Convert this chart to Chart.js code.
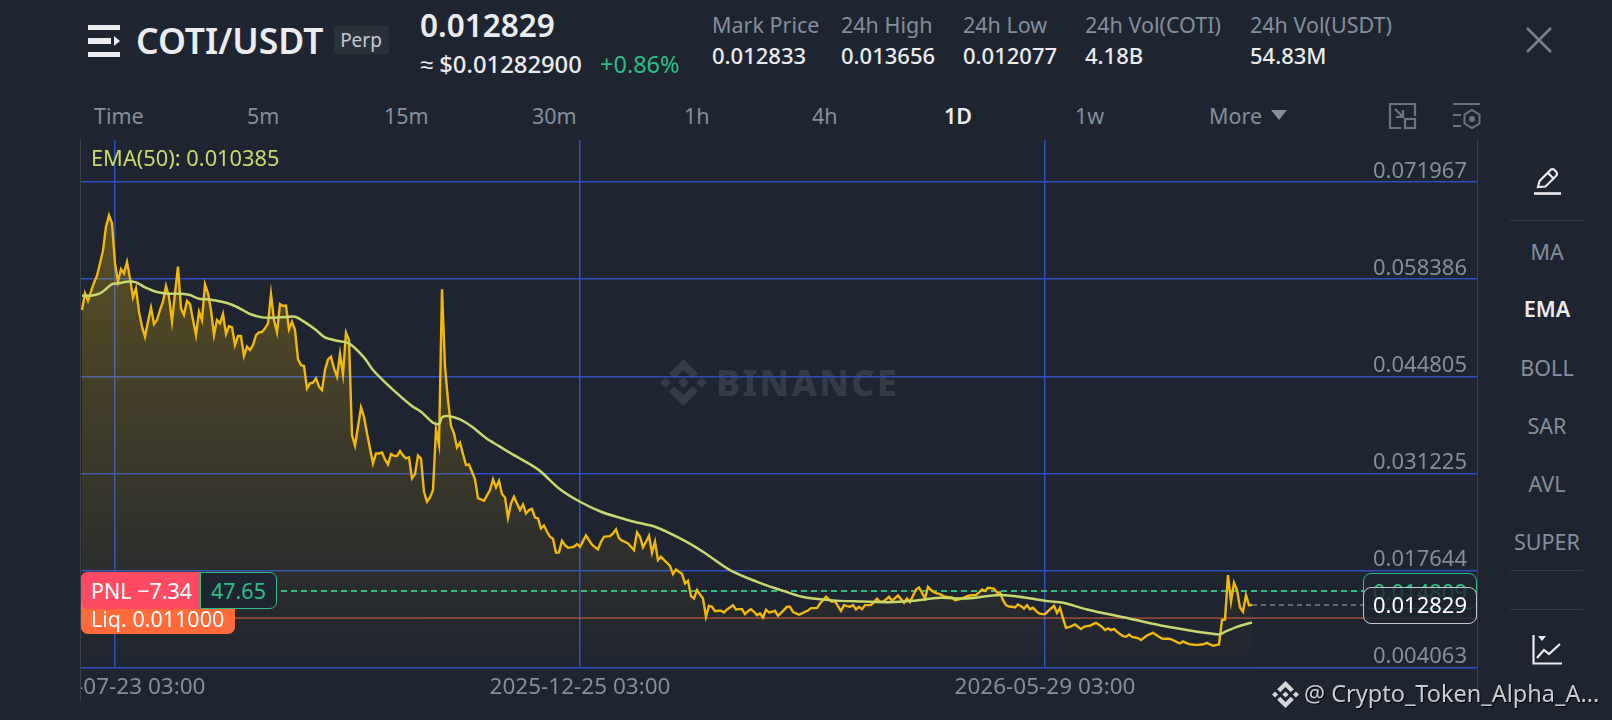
<!DOCTYPE html>
<html>
<head>
<meta charset="utf-8">
<title>COTI/USDT Perp</title>
<script src="https://cdn.jsdelivr.net/npm/chart.js@4/dist/chart.umd.js"></script>
<style>
  html, body { margin: 0; padding: 0; background: #1f2530; width: 1612px; height: 720px; overflow: hidden; }
  body { font-family: "Noto Sans", sans-serif; color: #eaecef; position: relative; }
  .t { position: absolute; white-space: nowrap; line-height: 1; transform: translateY(-50%); }
  .c { transform: translate(-50%, -50%); }
  .label { font-size: 21.5px; color: #848e9c; }
  .value { font-size: 22px; color: #eaecef; font-weight: 500; }
  .tab { font-size: 21.5px; color: #848e9c; }
  .side { font-size: 21.5px; color: #848e9c; }
  .rule { position: absolute; left: 1510px; width: 73px; height: 1px; background: #333a45; }
  svg { position: absolute; }
  #wrap { position: absolute; left: 80px; top: 140px; width: 1396px; height: 560px; border-left: 1px solid #3a414d; border-right: 1px solid #3a414d; }
  canvas { display: block; }
  .tag { position: absolute; box-sizing: border-box; font-size: 21.5px; display: flex; align-items: center; }
</style>
</head>
<body>
<svg width="0" height="0"><symbol id="bnb" viewBox="0 0 126 126"><path d="M38.5 53 63 28.5 87.5 53l14.3-14.3L63 0 24.2 38.7zM0 63l14.3-14.3L28.6 63 14.3 77.3zM38.5 73 63 97.5 87.5 73l14.3 14.3L63 126 24.2 87.3zM97.4 63l14.3-14.3L126 63l-14.3 14.3zM77.5 63 63 48.5 48.5 63 63 77.5z"/></symbol></svg>

<!-- header -->
<svg style="left:88px;top:25px" width="33" height="32" fill="#eaecef"><rect x="0" y="0" width="32" height="5"/><rect x="0" y="13" width="23" height="6"/><path d="M26 11l6 5-6 5z"/><rect x="0" y="27" width="32" height="5"/></svg>
<div class="t" style="left:136px;top:41px;font-size:35.5px;font-weight:600">COTI/USDT</div>
<div class="t" style="left:334px;top:40px;width:55px;height:29px;background:#2b3139;border-radius:4px"></div>
<div class="t c" style="left:361px;top:40px;font-size:19px;color:#c4c9d0">Perp</div>
<div class="t" style="left:420px;top:25px;font-size:31.5px;font-weight:600">0.012829</div>
<div class="t" style="left:420px;top:65px;font-size:23.8px;font-weight:500">≈ $0.01282900</div>
<div class="t" style="left:600px;top:65px;font-size:23.5px;color:#2ebd85">+0.86%</div>

<div class="t label" style="left:712px;top:25px">Mark Price</div><div class="t value" style="left:712px;top:55px">0.012833</div>
<div class="t label" style="left:841px;top:25px">24h High</div><div class="t value" style="left:841px;top:55px">0.013656</div>
<div class="t label" style="left:963px;top:25px">24h Low</div><div class="t value" style="left:963px;top:55px">0.012077</div>
<div class="t label" style="left:1085px;top:25px">24h Vol(COTI)</div><div class="t value" style="left:1085px;top:55px">4.18B</div>
<div class="t label" style="left:1250px;top:25px">24h Vol(USDT)</div><div class="t value" style="left:1250px;top:55px">54.83M</div>
<svg style="left:1526px;top:27px" width="26" height="26" stroke="#7a828e" stroke-width="2.5" fill="none"><path d="M1 1L25 25M25 1L1 25"/></svg>

<!-- interval tabs -->
<div class="t tab" style="left:94px;top:116px">Time</div>
<div class="t tab" style="left:247px;top:116px">5m</div>
<div class="t tab" style="left:384px;top:116px">15m</div>
<div class="t tab" style="left:532px;top:116px">30m</div>
<div class="t tab" style="left:684px;top:116px">1h</div>
<div class="t tab" style="left:812px;top:116px">4h</div>
<div class="t tab" style="left:944px;top:116px;color:#eaecef;font-weight:600">1D</div>
<div class="t tab" style="left:1075px;top:116px">1w</div>
<div class="t tab" style="left:1209px;top:116px">More</div>
<svg style="left:1271px;top:110px" width="16" height="10" fill="#848e9c"><path d="M0 0h16L8 10z"/></svg>
<svg style="left:1388px;top:102px" width="29" height="28" fill="none" stroke="#6d7480" stroke-width="2.2"><path d="M13 26H2V2h25v12"/><rect x="17" y="17" width="10" height="9"/><path d="M7 7l8 8M15 8v7H8"/></svg>
<svg style="left:1452px;top:102px" width="29" height="28" fill="none" stroke="#6d7480" stroke-width="2"><path d="M1 2h27M1 13h8M1 24h8"/><path d="M20 8l7.500 4.500v9L20 26l-7.500-4.500v-9z"/><circle cx="20" cy="17" r="2" fill="#6d7480"/></svg>

<!-- watermark -->
<svg style="left:660px;top:359px;fill:#363c47" width="47" height="47"><use href="#bnb"/></svg>
<div class="t" style="left:716px;top:383px;font-size:36px;font-weight:800;color:#363c47;letter-spacing:2.300px">BINANCE</div>

<!-- chart -->
<div id="wrap"><canvas id="chart" width="1396" height="560"></canvas></div>
<div class="t" style="left:91px;top:158px;font-size:21.800px;color:#c8d86e">EMA(50): 0.010385</div>

<!-- position tags -->
<div class="tag" style="left:81px;top:600px;width:154px;height:34px;background:#ff6a3b;border-radius:0 0 7px 7px;padding:3px 0 0 10px;color:#fff">Liq. 0.011000</div>
<div class="tag" style="left:81px;top:572px;width:120px;height:37px;background:#fe4a63;border-radius:6px 0 0 6px;padding-left:10px;color:#fff">PNL −7.34</div>
<div class="tag" style="left:200px;top:572px;width:77px;height:37px;background:#1f2530;border:1px solid #2ebd85;border-radius:0 7px 7px 0;justify-content:center;color:#2ebd85">47.65</div>
<div class="tag" style="left:1363px;top:573px;width:114px;height:36px;background:#1f2530;border:1px solid #2ebd85;border-radius:8px;justify-content:center;color:#2ebd85;align-items:flex-start;padding-top:2px;font-size:22px">0.014809</div>
<div class="tag" style="left:1363px;top:587px;width:114px;height:37px;background:rgba(31,37,48,0.82);border:1.500px solid #c3c7cd;border-radius:8px;justify-content:center;color:#fff;font-size:22px;padding-bottom:3px">0.012829</div>

<!-- right panel -->
<svg style="left:1533px;top:166px" width="30" height="30" fill="none" stroke="#eaecef" stroke-width="2.2"><path d="M5 21l1.500-6L17 4.500a3 3 0 0 1 5 0l1 1a3 3 0 0 1 0 4.500L12.500 20.500z"/><path d="M15 7l6 6"/><path d="M1 27.500h27" stroke-width="2.600"/></svg>
<div class="rule" style="top:220px"></div>
<div class="t c side" style="left:1547px;top:252px">MA</div>
<div class="t c side" style="left:1547px;top:309px;color:#eaecef;font-weight:600">EMA</div>
<div class="t c side" style="left:1547px;top:368px">BOLL</div>
<div class="t c side" style="left:1547px;top:426px">SAR</div>
<div class="t c side" style="left:1547px;top:484px">AVL</div>
<div class="t c side" style="left:1547px;top:542px">SUPER</div>
<div class="rule" style="top:570px"></div>
<div class="rule" style="top:609px"></div>
<svg style="left:1532px;top:634px" width="32" height="32" fill="none" stroke="#eaecef" stroke-width="2.200"><path d="M1.500 1v28.500H30"/><path d="M5 24l7-8 5 4 11-10"/><path d="M6 2h8l-4 5z" fill="#eaecef" stroke="none"/></svg>

<!-- share mark -->
<svg style="left:1272px;top:681px;fill:#d4d6da" width="27" height="27"><use href="#bnb"/></svg>
<div class="t" style="left:1304px;top:694px;font-size:23.500px;color:#c9ccd1;text-shadow:1px 1px 1px #000">@ Crypto_Token_Alpha_A...</div>

<script>
// daily closes, first one is day -11 (day 0 = 2025-07-23)
const firstDay = -11
const prices = [
  0.05407,0.05640,0.05537,0.05663,0.05789,0.05887,0.06059,0.06237,0.06572,0.06731,0.06619,
  0.06059,0.05803,0.05980,0.05920,0.06078,0.05850,0.05584,0.05710,0.05384,0.05174,
  0.05034,0.05244,0.05440,0.05211,0.05267,0.05407,0.05523,0.05743,0.05593,0.05244,
  0.05640,0.06013,0.05430,0.05337,0.05537,0.05491,0.05267,0.05057,0.05384,0.05267,
  0.05766,0.05640,0.05407,0.05057,0.05267,0.05220,0.05351,0.05071,0.05183,0.05165,
  0.04917,0.05043,0.05043,0.04764,0.04894,0.04848,0.04917,0.05057,0.05095,0.05099,
  0.05151,0.05220,0.05631,0.05267,0.05095,0.05491,0.05463,0.05468,0.05137,0.05244,
  0.05127,0.04717,0.04638,0.04624,0.04311,0.04381,0.04391,0.04451,0.04335,0.04288,
  0.04568,0.04717,0.04754,0.04591,0.04475,0.04792,0.04507,0.05090,0.04987,
  0.03659,0.03510,0.03775,0.04046,0.03915,0.03682,0.03472,0.03262,0.03402,0.03402,
  0.03416,0.03318,0.03248,0.03393,0.03370,0.03365,0.03435,0.03374,0.03332,0.03346,
  0.03053,0.03113,0.03374,0.03332,0.02866,0.02726,0.02787,0.02890,0.03738,0.03523,
  0.05696,0.04614,0.04148,0.03785,0.03682,0.03486,0.03551,0.03393,0.03239,0.03248,
  0.03146,0.03039,0.02778,0.02759,0.02740,0.02815,0.02890,0.03039,0.02927,0.03020,
  0.02834,0.02787,0.02503,0.02703,0.02796,0.02703,0.02610,0.02689,0.02563,0.02610,
  0.02628,0.02507,0.02493,0.02353,0.02395,0.02307,0.02237,0.02209,0.02013,0.02018,
  0.02181,0.02120,0.02083,0.02088,0.02097,0.02134,0.02097,0.02176,0.02256,0.02190,
  0.02125,0.02092,0.02060,0.02167,0.02237,0.02242,0.02246,0.02284,0.02340,0.02218,
  0.02181,0.02167,0.02144,0.02097,0.02051,0.02298,0.02237,0.02088,0.02167,0.02251,
  0.02013,0.02167,0.01911,0.01957,0.01915,0.01873,0.01831,0.01715,0.01780,0.01748,
  0.01720,0.01584,0.01621,0.01407,0.01374,0.01491,0.01430,0.01374,0.01118,0.01272,
  0.01258,0.01197,0.01202,0.01202,0.01178,0.01220,0.01248,0.01281,0.01220,0.01225,
  0.01225,0.01155,0.01197,0.01225,0.01188,0.01141,0.01165,0.01109,0.01216,0.01178,
  0.01188,0.01202,0.01132,0.01174,0.01216,0.01258,0.01258,0.01188,0.01165,0.01146,
  0.01165,0.01188,0.01206,0.01239,0.01239,0.01239,0.01304,0.01351,0.01398,0.01360,
  0.01328,0.01337,0.01267,0.01202,0.01281,0.01267,0.01258,0.01281,0.01220,0.01258,
  0.01225,0.01281,0.01281,0.01281,0.01323,0.01370,0.01328,0.01332,0.01360,0.01398,
  0.01342,0.01379,0.01416,0.01365,0.01314,0.01374,0.01323,0.01412,0.01500,0.01528,
  0.01454,0.01374,0.01537,0.01491,0.01463,0.01444,0.01435,0.01412,0.01398,0.01393,
  0.01388,0.01351,0.01360,0.01370,0.01388,0.01407,0.01416,0.01421,0.01421,0.01458,
  0.01500,0.01477,0.01523,0.01519,0.01509,0.01458,0.01458,0.01351,0.01281,0.01262,
  0.01258,0.01248,0.01290,0.01267,0.01234,0.01281,0.01225,0.01244,0.01202,0.01165,
  0.01155,0.01155,0.01197,0.01234,0.01272,0.01174,0.01244,0.01095,0.00964,0.00974,
  0.00992,0.01011,0.00978,0.00946,0.00978,0.00988,0.00992,0.01016,0.01034,0.01006,
  0.00978,0.00932,0.00955,0.00932,0.00950,0.00908,0.00876,0.00848,0.00838,0.00871,
  0.00838,0.00829,0.00820,0.00792,0.00824,0.00857,0.00876,0.00894,0.00866,0.00838,
  0.00815,0.00810,0.00810,0.00806,0.00787,0.00764,0.00745,0.00773,0.00754,0.00736,
  0.00731,0.00726,0.00726,0.00731,0.00736,0.00754,0.00731,0.00713,0.00722,0.00731,
  0.01072,0.01081,0.01701,0.01328,0.01594,0.01491,0.01249,0.01188,0.01421,0.01281,0.012829
]

// EMA(50) read at the bends of the line
const emaDays = [-11,-8,-5,-3,-1,1,4,7,10,14,18,22,25,28,32,36,39,42,45,49,53,57,60,63,67,70,74,78,83,86,91,99,102,106,108,109,111,115,119,124,128,132,141,148,155,162,168,173,180,189,196,205,214,222,229,238,248,258,266,275,284,295,303,311,316,324,338,348,368,370,374,379]
const emaPrices = [0.05607,0.05607,0.05640,0.05701,0.05770,0.05780,0.05803,0.05794,0.05724,0.05659,0.05635,0.05635,0.05617,0.05565,0.05551,0.05519,0.05481,0.05421,0.05351,0.05304,0.05300,0.05309,0.05314,0.05244,0.05127,0.05024,0.04978,0.04941,0.04745,0.04568,0.04358,0.04064,0.03985,0.03831,0.03812,0.03906,0.03924,0.03878,0.03775,0.03607,0.03505,0.03402,0.03179,0.02913,0.02726,0.02587,0.02507,0.02447,0.02377,0.02200,0.02027,0.01770,0.01607,0.01491,0.01398,0.01351,0.01332,0.01323,0.01342,0.01384,0.01374,0.01421,0.01388,0.01337,0.01314,0.01221,0.01095,0.01002,0.00871,0.00908,0.00978,0.010385]

const yTicks = [0.071967, 0.058386, 0.044805, 0.031225, 0.017644, 0.004063]
const xTickDays = [0, 155, 310]
const xTickLabels = ['2025-07-23 03:00', '2025-12-25 03:00', '2026-05-29 03:00']

const entryPrice = 0.014773
const liqPrice = 0.011
const lastPrice = 0.012829
const lastDay = firstDay + prices.length - 1
const tagDay = 416   // where the price tags on the right start

const xMin = -11.33
const xMax = 454
const yMin = 0.004063
const yMax = 0.07784

const gridBlue = '#2d4fbf'

function noPadding(scale) {
    scale.paddingLeft = 0
    scale.paddingRight = 0
    scale.paddingTop = 0
    scale.paddingBottom = 0
}

const ctx = document.getElementById('chart')

new Chart(ctx, {
    type: 'line',
    data: {
        datasets: [
            {
                label: 'EMA(50)',
                data: emaDays.map((d, i) => ({x: d, y: emaPrices[i]})),
                borderColor: '#c8d86e',
                borderWidth: 2.5,
                pointRadius: 0,
                tension: 0.3,
                fill: false,
                order: 1
            },
            {
                label: 'Price',
                data: prices.map((p, i) => ({x: firstDay + i, y: p})),
                borderColor: '#f0b90b',
                borderWidth: 2.4,
                pointRadius: 0,
                tension: 0,
                fill: 'start',
                order: 2,
                backgroundColor: function(c) {
                    const area = c.chart.chartArea
                    if (!area) return 'transparent'
                    const g = c.chart.ctx.createLinearGradient(0, 60, 0, area.bottom)
                    g.addColorStop(0, 'rgba(240,185,11,0.30)')
                    g.addColorStop(1, 'rgba(240,185,11,0.0)')
                    return g
                }
            },
            {
                label: 'Entry',
                data: [{x: xMin, y: entryPrice}, {x: tagDay, y: entryPrice}],
                borderColor: '#2ebd85',
                borderWidth: 2,
                borderDash: [6, 4],
                pointRadius: 0,
                order: 3
            },
            {
                label: 'Liq',
                data: [{x: xMin, y: liqPrice}, {x: xMax, y: liqPrice}],
                borderColor: '#e0603c',
                borderWidth: 1,
                pointRadius: 0,
                order: 4
            },
            {
                label: 'Last',
                data: [{x: lastDay, y: lastPrice}, {x: tagDay, y: lastPrice}],
                borderColor: '#aab0b9',
                borderWidth: 1,
                borderDash: [5, 4],
                pointRadius: 0,
                order: 5
            }
        ]
    },
    options: {
        responsive: false,
        animation: false,
        plugins: {legend: {display: false}, tooltip: {enabled: false}},
        layout: {padding: 0},
        scales: {
            x: {
                type: 'linear',
                min: xMin,
                max: xMax,
                afterBuildTicks: s => { s.ticks = xTickDays.map(v => ({value: v})) },
                afterFit: s => { noPadding(s); s.height = 32.3 },
                grid: {color: gridBlue, lineWidth: 1.5, drawTicks: false},
                border: {display: false},
                ticks: {
                    autoSkip: false,
                    maxRotation: 0,
                    color: '#848e9c',
                    padding: 6,
                    font: {family: 'Noto Sans', size: 22.5},
                    callback: v => xTickLabels[xTickDays.indexOf(v)]
                }
            },
            y: {
                position: 'right',
                min: yMin,
                max: yMax,
                afterBuildTicks: s => { s.ticks = yTicks.map(v => ({value: v})) },
                afterFit: s => { noPadding(s); s.width = 0 },
                grid: {color: gridBlue, lineWidth: 1.5, drawTicks: false},
                border: {display: false},
                ticks: {
                    mirror: true,
                    autoSkip: false,
                    labelOffset: -10.5,
                    padding: -10,
                    color: '#848e9c',
                    font: {family: 'Noto Sans', size: 22},
                    callback: v => v.toFixed(6)
                }
            }
        }
    }
})
</script>
</body>
</html>
